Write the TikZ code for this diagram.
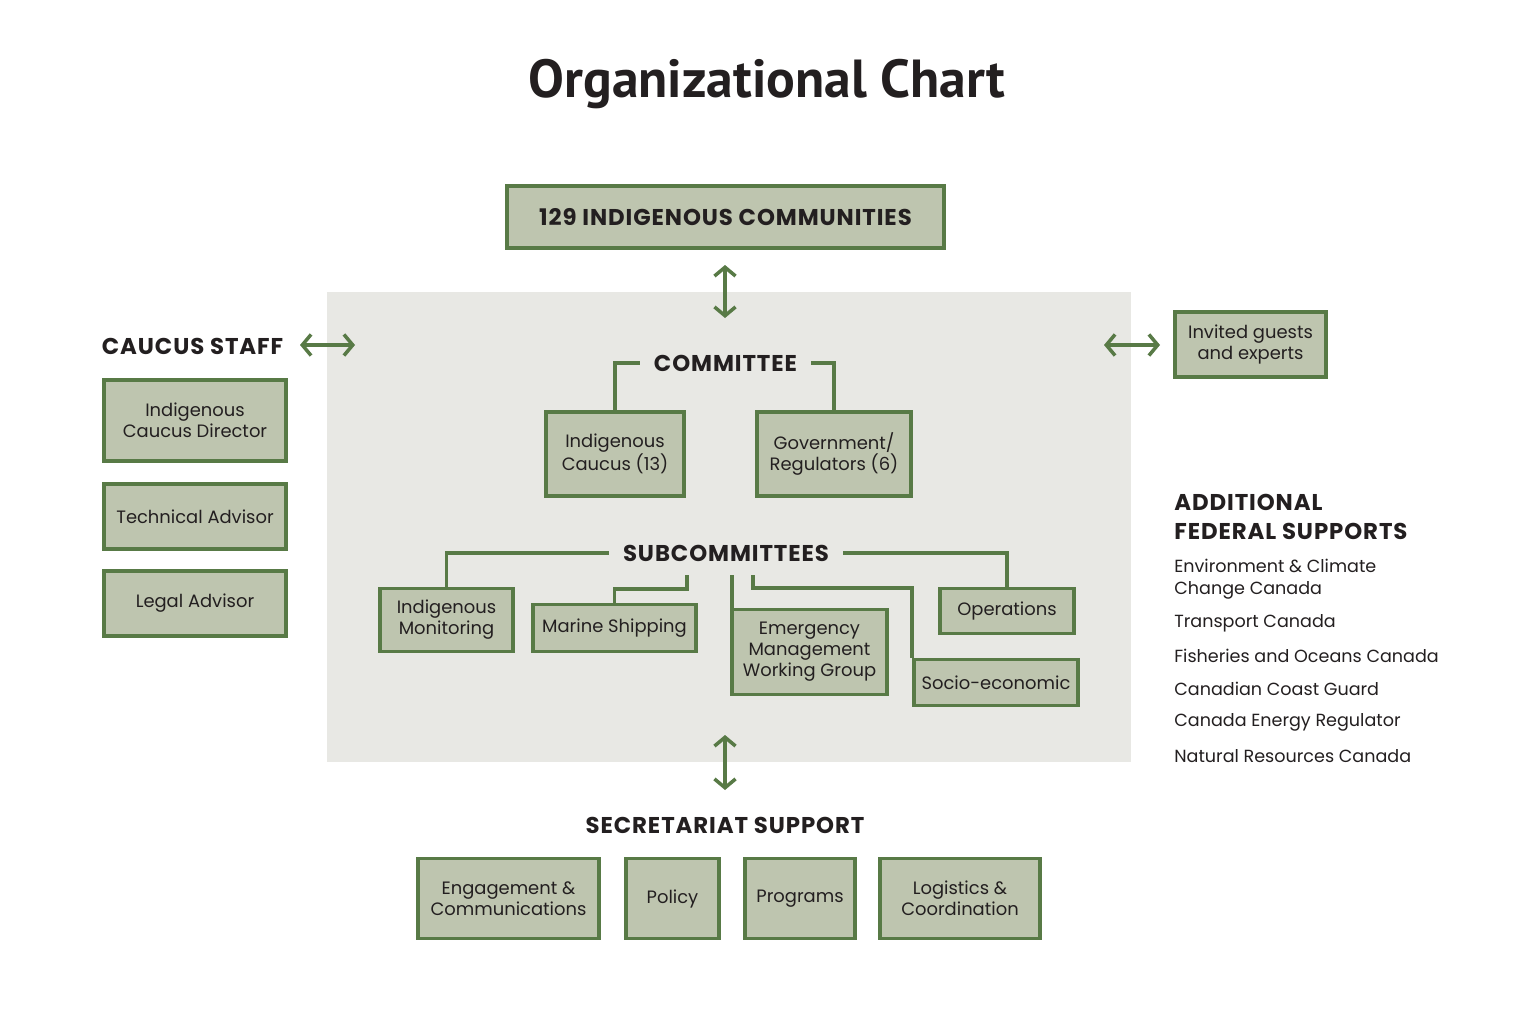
\documentclass[tikz,border=0pt]{standalone}
\usepackage{fontspec}
\setmainfont{Poppins}
\newfontfamily\hdfont{Poppins}[LetterSpace=4]
\newfontfamily\titlefont{PT Sans}
\usetikzlibrary{arrows.meta,calc,positioning}
\definecolor{orggreen}{HTML}{587A46}
\definecolor{orgbox}{HTML}{BEC5AF}
\definecolor{orgpanel}{HTML}{E8E8E4}
\definecolor{orgtext}{HTML}{231F20}

\begin{document}
\begin{tikzpicture}[x=0.02cm,y=-0.02cm,
  box/.style 2 args={draw=orggreen,fill=orgbox,line width=2.2pt,align=center,inner sep=0pt,text=orgtext,
    minimum width=#1*0.02cm,minimum height=#2*0.02cm,font=\fontsize{10.2}{12}\selectfont},
  hdg/.style={text=orgtext,inner sep=0pt,font=\hdfont\fontsize{13}{16}\selectfont\bfseries},
  link/.style={orggreen,line width=2pt},
  twoway/.style={orggreen,line width=2pt,{Straight Barb[length=5pt,width=12pt]}-{Straight Barb[length=5pt,width=12pt]}},
  fed/.style={text=orgtext,anchor=west,inner sep=0pt,align=left,font=\fontsize{10}{12.5}\selectfont}]
  \useasboundingbox[fill=white](0,0)rectangle(1536,1034);
  \node[text=orgtext,font=\titlefont\bfseries\fontsize{30.5}{36}\selectfont] (title) at (767,84) {Organizational Chart};
  \fill[orgpanel](327,292)rectangle(1131,762);
  % top
  \node[box={437}{62},font=\hdfont\fontsize{13}{15}\selectfont\bfseries] (comm) at (725.5,217) {129 INDIGENOUS COMMUNITIES};
  \coordinate(atop)at(725,265);\coordinate(abot)at(725,318);
  \draw[twoway](atop)--(abot);
  % caucus staff
  \node[hdg] (staff) at (192.5,346) {CAUCUS STAFF};
  \coordinate(sl)at(300,345);\coordinate(sr)at(355,345);
  \draw[twoway](sl)--(sr);
  \foreach \nm/\cy/\h/\txt in {sdir/420.5/81/{Indigenous\\Caucus Director},
                               stech/516.5/65/{Technical Advisor}, slegal/603.5/65/{Legal Advisor}}
    \node[box={182}{\h}] (\nm) at (195,\cy) {\txt};
  % guests
  \node[box={151}{65}] (guests) at (1250.5,344.5) {Invited guests\\and experts};
  \coordinate(gl)at(1104,345);\coordinate(gr)at(1160,345);
  \draw[twoway](gl)--(gr);
  % committee
  \node[hdg,inner xsep=8pt] (cttee) at (725.5,363) {COMMITTEE};
  \node[box={138}{84}] (icauc) at (615,454) {Indigenous\\Caucus (13)};
  \node[box={154}{84}] (govreg) at (834,454) {Government/\\Regulators (6)};
  \draw[link](cttee.west)-|(icauc.north);
  \draw[link](cttee.east)-|(govreg.north);
  % subcommittees
  \node[hdg,inner xsep=8pt] (subc) at (726,553) {SUBCOMMITTEES};
  \node[box={133}{63}] (imon) at (446.5,620) {Indigenous\\Monitoring};
  \node[box={163}{47}] (marine) at (614.5,628) {Marine Shipping};
  \node[box={155}{85}] (emerg) at (809.5,652) {Emergency\\Management\\Working Group};
  \node[box={164}{46}] (socio) at (996,682.5) {Socio-economic};
  \node[box={134}{45}] (ops) at (1007,611) {Operations};
  \draw[link](subc.west)-|(imon.north);
  \draw[link](subc.east)-|(ops.north);
  \coordinate(tapm)at(687,575);\coordinate(tape)at(732,575);\coordinate(taps)at(753,575);
  \draw[link](tapm)--++(0,14)-|(marine.north);
  \draw[link](tape)--(tape|-emerg.north);
  \draw[link](taps)--++(0,13)-|(socio.north west);
  % secretariat
  \coordinate(btop)at(725,735);\coordinate(bbot)at(725,790);
  \draw[twoway](btop)--(bbot);
  \node[hdg] (secr) at (725,825) {SECRETARIAT SUPPORT};
  \foreach \nm/\cx/\w/\txt in {seng/508.5/181/{Engagement \&\\Communications}, spol/672.5/93/{Policy},
                               sprog/800/110/{Programs}, slog/960/160/{Logistics \&\\Coordination}}
    \node[box={\w}{80}] (\nm) at (\cx,898.5) {\txt};
  % federal supports
  \node[hdg,anchor=west,align=left] (addl) at (1174,517) {ADDITIONAL\\FEDERAL SUPPORTS};
  \node[fed] (env) at (1174,579) {Environment \& Climate\\Change Canada};
  \foreach \nm/\cy/\txt in {tc/623/Transport Canada, dfo/656/Fisheries and Oceans Canada,
                            ccg/689/Canadian Coast Guard, cer/722/Canada Energy Regulator,
                            nrc/756/Natural Resources Canada}
    \node[fed] (\nm) at (1174,\cy) {\txt};
\end{tikzpicture}
\end{document}
